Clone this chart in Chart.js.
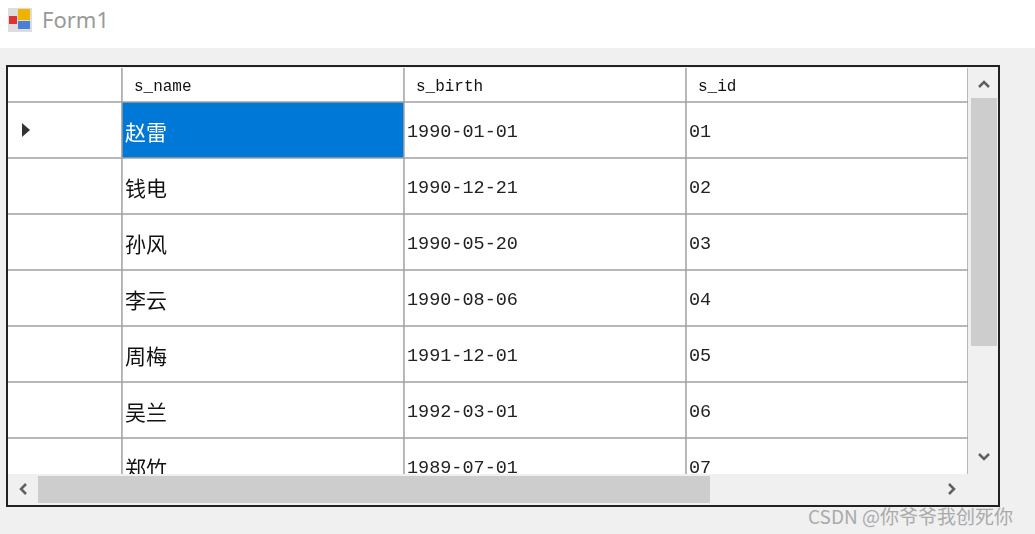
<!DOCTYPE html>
<html>
<head>
<meta charset="utf-8">
<script src="https://cdn.jsdelivr.net/npm/chart.js@4"></script>
<style>
  body { margin: 0; width: 1035px; height: 534px; background: #f0f0f0; position: relative; overflow: hidden; font-family: "Noto Sans", sans-serif; }
  #title { position: absolute; left: 0; top: 0; width: 1035px; height: 48px; background: #fff; }
  #title span { position: absolute; left: 42px; top: 4px; font-size: 22px; color: #999; font-family: "Noto Sans", sans-serif; }
  #icon { position: absolute; left: 8px; top: 8px; width: 24px; height: 24px; }
  #frame { position: absolute; left: 6px; top: 65px; width: 990px; height: 438px; border: 2px solid #222; background: #f0f0f0; }
  #wrap { position: absolute; left: 8px; top: 68px; width: 960px; height: 406px; background: #fff; }
  #vbar { position: absolute; left: 968px; top: 68px; width: 30px; height: 406px; background: #f0f0f0; }
  #vthumb { position: absolute; left: 3px; top: 30px; width: 26px; height: 248px; background: #cdcdcd; }
  #hbar { position: absolute; left: 8px; top: 474px; width: 990px; height: 30px; background: #f0f0f0; }
  #hthumb { position: absolute; left: 30px; top: 2px; width: 672px; height: 27px; background: #cdcdcd; }
  .arr { position: absolute; width: 14px; height: 14px; }
  #wm { position: absolute; left: 808px; top: 502px; font-size: 19px; color: #aaa; font-family: "Noto Sans CJK SC", sans-serif; }
</style>
</head>
<body>
<div id="title">
  <svg id="icon" viewBox="0 0 24 24">
    <rect x="0" y="0" width="24" height="24" fill="#ddd"/>
    <rect x="10" y="1" width="12" height="11" fill="#f0b400"/>
    <rect x="1" y="8" width="8" height="8" fill="#d33"/>
    <rect x="10" y="13" width="12" height="8" fill="#4a7fd6"/>
  </svg>
  <span>Form1</span>
</div>
<div id="frame"></div>
<div id="wrap"><canvas id="grid"></canvas></div>
<div id="vbar"><div id="vthumb"></div>
  <svg class="arr" style="left:9px;top:9px;" viewBox="0 0 14 14"><path d="M2 10 L7 5 L12 10" stroke="#606060" stroke-width="2.5" fill="none"/></svg>
  <svg class="arr" style="left:9px;top:382px;" viewBox="0 0 14 14"><path d="M2 4 L7 9 L12 4" stroke="#606060" stroke-width="2.5" fill="none"/></svg>
</div>
<div id="hbar"><div id="hthumb"></div>
  <svg class="arr" style="left:8px;top:8px;" viewBox="0 0 14 14"><path d="M10 2 L5 7 L10 12" stroke="#606060" stroke-width="2.5" fill="none"/></svg>
  <svg class="arr" style="left:937px;top:8px;" viewBox="0 0 14 14"><path d="M4 2 L9 7 L4 12" stroke="#606060" stroke-width="2.5" fill="none"/></svg>
</div>
<div id="wm">CSDN @你爷爷我创死你</div>
<script>
const columns = ["s_name", "s_birth", "s_id"];
const names = ["赵雷", "钱电", "孙风", "李云", "周梅", "吴兰", "郑竹"];
const births = ["1990-01-01", "1990-12-21", "1990-05-20", "1990-08-06", "1991-12-01", "1992-03-01", "1989-07-01"];
const ids = ["01", "02", "03", "04", "05", "06", "07"];
const selectedRow = 0;

// grid units: one data column = 1, one data row = 1
const rowHeaderW = 0.404;
const headerH = 0.607;

const tablePlugin = {
  id: "table",
  afterDraw(chart) {
    const ctx = chart.ctx;
    const xs = chart.scales.x, ys = chart.scales.y;
    const colEdges = [0, rowHeaderW];
    columns.forEach((c, i) => colEdges.push(rowHeaderW + i + 1));
    const X = v => xs.getPixelForValue(v);
    const Y = v => ys.getPixelForValue(v);
    const rowTop = r => headerH + r;
    ctx.save();
    // selected cell
    ctx.fillStyle = "#0078d7";
    ctx.fillRect(X(colEdges[1]), Y(rowTop(selectedRow)), X(colEdges[2]) - X(colEdges[1]), Y(rowTop(selectedRow + 1)) - Y(rowTop(selectedRow)));
    // grid lines
    ctx.strokeStyle = "#a0a0a0";
    ctx.lineWidth = 1.5;
    colEdges.slice(1).forEach(e => {
      ctx.beginPath(); ctx.moveTo(X(e), Y(0)); ctx.lineTo(X(e), Y(rowTop(names.length))); ctx.stroke();
    });
    for (let r = 0; r <= names.length; r++) {
      ctx.beginPath(); ctx.moveTo(X(0), Y(rowTop(r))); ctx.lineTo(X(colEdges[colEdges.length - 1]), Y(rowTop(r))); ctx.stroke();
    }
    // header text
    ctx.fillStyle = "#111";
    ctx.textBaseline = "middle";
    ctx.font = "16px 'Liberation Mono'";
    columns.forEach((c, i) => ctx.fillText(c, X(colEdges[i + 1]) + 12, Y(headerH / 2) + 2));
    // row indicator
    const cy = Y(rowTop(selectedRow) + 0.5);
    ctx.fillStyle = "#333";
    ctx.beginPath(); ctx.moveTo(X(0) + 14, cy - 7); ctx.lineTo(X(0) + 22, cy); ctx.lineTo(X(0) + 14, cy + 7); ctx.fill();
    // cells
    names.forEach((n, r) => {
      const y = Y(rowTop(r) + 0.5) + 2;
      ctx.fillStyle = r === selectedRow ? "#fff" : "#111";
      ctx.font = "21px 'Noto Sans CJK SC'";
      ctx.fillText(n, X(colEdges[1]) + 3, y);
      ctx.fillStyle = "#222";
      ctx.font = "18.5px 'Liberation Mono'";
      ctx.fillText(births[r], X(colEdges[2]) + 3, y);
      ctx.fillText(ids[r], X(colEdges[3]) + 3, y);
    });
    ctx.restore();
  }
};

new Chart(document.getElementById("grid"), {
  type: "scatter",
  data: { datasets: [{ data: [] }] },
  options: {
    responsive: true,
    maintainAspectRatio: false,
    animation: false,
    layout: { padding: 0 },
    scales: {
      x: { type: "linear", min: 0, max: rowHeaderW + columns.length, display: false },
      y: { type: "linear", min: 0, max: 7.25, reverse: true, display: false }
    },
    plugins: { legend: { display: false }, tooltip: { enabled: false } }
  },
  plugins: [tablePlugin]
});
</script>
</body>
</html>
